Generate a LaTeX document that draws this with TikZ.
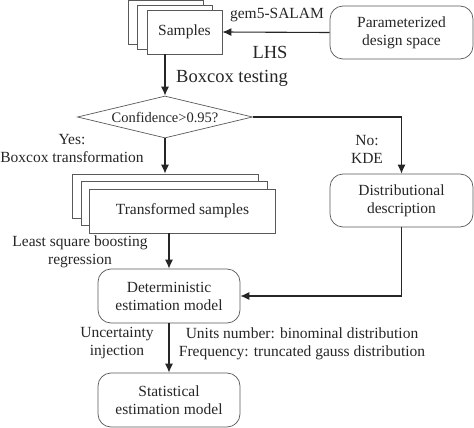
\documentclass[tikz,border=0pt]{standalone}
\usepackage{fontspec}
\setmainfont{Liberation Serif}
\usetikzlibrary{calc}
\usetikzlibrary{positioning}
\usetikzlibrary{shapes.geometric}
\usetikzlibrary{arrows.meta}
\tikzstyle{pagenode} = [draw=black!65, fill=white, rectangle, line width=0.7pt, inner sep=0pt, font=\fontsize{15.5}{18}\selectfont]
\tikzstyle{roundnode} = [draw=black!65, rectangle, rounded corners=13pt, line width=0.7pt, align=center, inner sep=0pt, font=\fontsize{15.5}{18}\selectfont]
\tikzstyle{decnode} = [draw=black!65, diamond, aspect=4.2, inner sep=0pt, minimum width=175pt, minimum height=42pt, line width=0.7pt, font=\fontsize{14.5}{17}\selectfont]
\tikzstyle{labnode} = [align=center, inner sep=0pt, font=\fontsize{15.5}{18}\selectfont]
\tikzstyle{biglab} = [align=center, inner sep=0pt, font=\fontsize{18.5}{22}\selectfont]
\tikzstyle{flow} = [-{Latex[length=9pt,width=8pt]}, line width=1.1pt, draw=black!85]

\begin{document}
\begin{tikzpicture}[x=1pt, y=-1pt, text=black!85]
\useasboundingbox (0,0) rectangle (474,428);
% stack of samples
\node[pagenode, minimum width=75pt, minimum height=44pt] (samples_back) at (165.5,22) {};
\node[pagenode, minimum width=75pt, minimum height=44pt] (samples_mid) at ($(samples_back)+(9.5,5)$) {};
\node[pagenode, minimum width=75pt, minimum height=44pt] (samples) at ($(samples_mid)+(9.5,5)$) {Samples};
\node[roundnode, minimum width=143pt, minimum height=53pt] (space) at (401.5,32.5) {Parameterized\\design space};

\node[decnode] (conf) at (165,117) {Confidence>0.95?};

% stack of transformed samples
\node[pagenode, minimum width=186pt, minimum height=44pt] (trans_back) at (165.5,196) {};
\node[pagenode, minimum width=186pt, minimum height=44pt] (trans_mid) at ($(trans_back)+(8.5,7.5)$) {};
\node[pagenode, minimum width=186pt, minimum height=44pt] (trans) at ($(trans_mid)+(8.5,7.5)$) {Transformed samples};
\node[roundnode, minimum width=143pt, minimum height=53pt] (dist) at (401.5,200.5) {Distributional\\description};

\node[roundnode, minimum width=142pt, minimum height=54pt] (det) at (169,296) {Deterministic\\estimation model};
\node[roundnode, minimum width=142pt, minimum height=54pt] (stat) at (169,400) {Statistical\\estimation model};

% labels
\node[labnode] (l_gem) at (277,15) {gem5-SALAM};
\node[biglab] (l_lhs) at (270,52) {LHS};
\node[biglab] (l_boxtest) at (232,78) {Boxcox testing};
\node[labnode] (l_yes) at (72,148.5) {Yes:\\Boxcox transformation};
\node[labnode] (l_no) at (367,149) {No:\\KDE};
\node[labnode] (l_lsb) at (80,252) {Least square boosting\\regression};
\node[labnode] (l_unc) at (117,343.5) {Uncertainty\\injection};
\node[labnode] (l_distr) at (302,343.5) {Units number: binominal distribution\\Frequency: truncated gauss distribution};

% connectors
\draw[flow] (space.west) -- (samples.east);
\draw[flow] (conf.north |- samples.south) -- (conf.north);
\draw[flow] (conf.south) -- (trans_back.north -| conf.south);
\draw[flow] (conf.east) -| (dist.north);
\draw[flow] (det.north |- trans.south) -- (det.north);
\draw[flow] (dist.south) |- (det.east);
\draw[flow] (det.south) -- (stat.north);
\end{tikzpicture}
\end{document}
